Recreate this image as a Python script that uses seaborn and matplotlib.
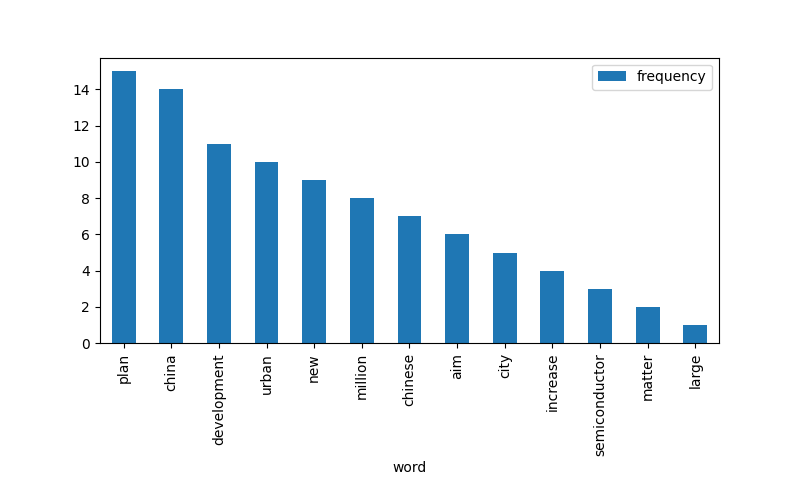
import pandas as pd
import seaborn as sns
import matplotlib.pyplot as plt
from matplotlib.patches import Patch

words = ["plan", "china", "development", "urban", "new", "million", "chinese",
         "aim", "city", "increase", "semiconductor", "matter", "large"]
frequency = [15, 14, 11, 10, 9, 8, 7, 6, 5, 4, 3, 2, 1]

df = pd.DataFrame({"word": words, "frequency": frequency})

fig, ax = plt.subplots(figsize=(7.99, 4.8), dpi=100)
fig.subplots_adjust(left=0.125, right=0.9, top=0.88, bottom=0.285)

sns.barplot(data=df, x="word", y="frequency", color="#1f77b4",
            saturation=1, width=0.5, ax=ax)

ax.set_ylabel("")
ax.set_xlabel("word")
ax.tick_params(axis="x", rotation=90)
ax.legend(handles=[Patch(facecolor="#1f77b4")], labels=["frequency"],
          loc="upper right")

fig.savefig("out.png", dpi=100)
